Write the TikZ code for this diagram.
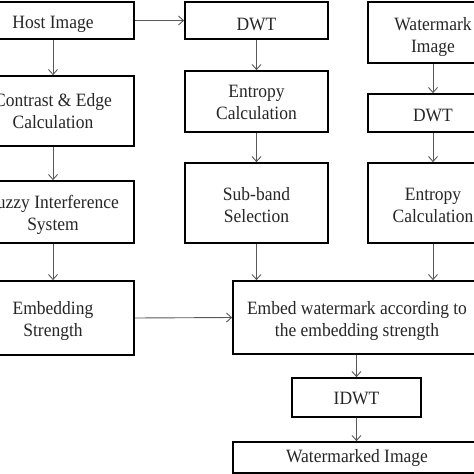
\documentclass[tikz,border=0pt]{standalone}
\usepackage{fontspec}
\setmainfont{Liberation Serif}[FakeStretch=0.93]
\usetikzlibrary{arrows.meta}
\begin{document}
\begin{tikzpicture}[x=1pt,y=-1pt,
  box/.style={draw=black,line width=1.7pt,rectangle,inner sep=0pt},
  txt/.style={align=center,inner sep=0pt,yshift=-3pt,
    font=\fontsize{18.8pt}{22pt}\selectfont,text=black!85},
  conn/.style={draw=black!65,line width=0.9pt,-{Straight Barb[length=5pt,width=9pt,line width=0.9pt]}}]
\useasboundingbox (0,0) rectangle (474,474);
\clip (0,0) rectangle (474,474);
\fill[white] (0,0) rectangle (474,474);
% left column
\node[box,minimum width=162pt,minimum height=37pt,label={[txt,yshift=-1pt]center:{Host Image}}] (host) at (53,20.5) {};
\node[box,minimum width=162pt,minimum height=70pt,label={[txt,yshift=3pt]center:{Contrast \& Edge\\Calculation}}] (contrast) at (53,111) {};
\node[box,minimum width=162pt,minimum height=62pt,label={[txt]center:{Fuzzy Interference\\System}}] (fuzzy) at (53,212) {};
\node[box,minimum width=162pt,minimum height=74pt,label={[txt]center:{Embedding\\Strength}}] (embstr) at (53,318) {};
% middle column
\node[box,minimum width=143pt,minimum height=37pt,label={[txt,yshift=-1pt]center:{DWT}}] (dwta) at (256.5,20.5) {};
\node[box,minimum width=143pt,minimum height=61pt,label={[txt,yshift=2pt]center:{Entropy\\Calculation}}] (enta) at (256.5,101.5) {};
\node[box,minimum width=143pt,minimum height=80pt,label={[txt,yshift=1pt]center:{Sub-band\\Selection}}] (sub) at (256.5,203) {};
% right column
\node[box,minimum width=130pt,minimum height=61pt,label={[txt,yshift=-2pt]center:{Watermark\\Image}}] (wm) at (433,32.5) {};
\node[box,minimum width=130pt,minimum height=38pt,label={[txt,yshift=1pt]center:{DWT}}] (dwtb) at (433,113) {};
\node[box,minimum width=130pt,minimum height=80pt,label={[txt,yshift=1pt]center:{Entropy\\Calculation}}] (entb) at (433,203) {};
% bottom
\node[box,minimum width=248pt,minimum height=73pt,label={[txt,yshift=-1pt]center:{Embed watermark according to\\the embedding strength}}] (embed) at (357,317.5) {};
\node[box,minimum width=129pt,minimum height=39pt,label={[txt,yshift=2pt]center:{IDWT}}] (idwt) at (356.5,397.5) {};
\node[box,minimum width=248pt,minimum height=31pt,label={[txt,yshift=2pt]center:{Watermarked Image}}] (wmimg) at (357,457.5) {};
% connectors
\draw[conn] (host.east) -- (dwta.west);
\draw[conn] (host.south) -- (contrast.north);
\draw[conn] (contrast.south) -- (fuzzy.north);
\draw[conn] (fuzzy.south) -- (embstr.north);
\draw[conn] (dwta.south) -- (enta.north);
\draw[conn] (enta.south) -- (sub.north);
\draw[conn] (wm.south) -- (dwtb.north);
\draw[conn] (dwtb.south) -- (entb.north);
\draw[conn] (embstr.east) -- (embed.west);
\draw[conn] (sub.south) -- (sub.south |- embed.north);
\draw[conn] (entb.south) -- (entb.south |- embed.north);
\draw[conn] (embed.south -| idwt.north) -- (idwt.north);
\draw[conn] (idwt.south) -- (idwt.south |- wmimg.north);
\end{tikzpicture}
\end{document}
